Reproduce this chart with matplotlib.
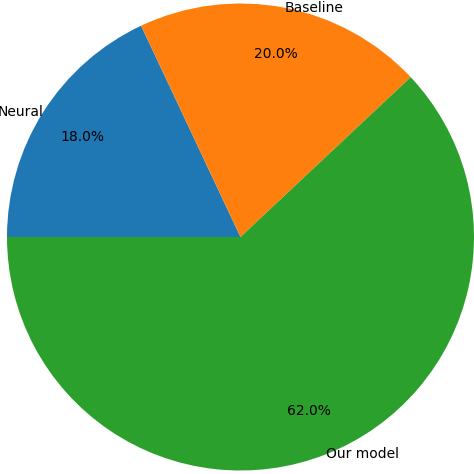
import matplotlib
matplotlib.use("Agg")
from matplotlib import pyplot as plt

etiquetas = ["Neural", "Baseline", "Our model"]
valores = [18.0, 20.0, 62.0]

fig = plt.figure(figsize=(4.74, 4.74), dpi=100)
# el circulo ocupa casi toda la imagen
ax = fig.add_axes([7 / 474, 3.5 / 474, 467 / 474, 467 / 474])

wedges, textos, autotextos = ax.pie(valores, labels=etiquetas, autopct="%1.1f%%",
                                    startangle=180, counterclock=False,
                                    labeldistance=1.0, pctdistance=0.8,
                                    textprops={"fontsize": 10})
ax.set_xlim(-1, 1)
ax.set_ylim(-1, 1)
ax.set_aspect("equal")

fig.savefig("out.png", dpi=100)
